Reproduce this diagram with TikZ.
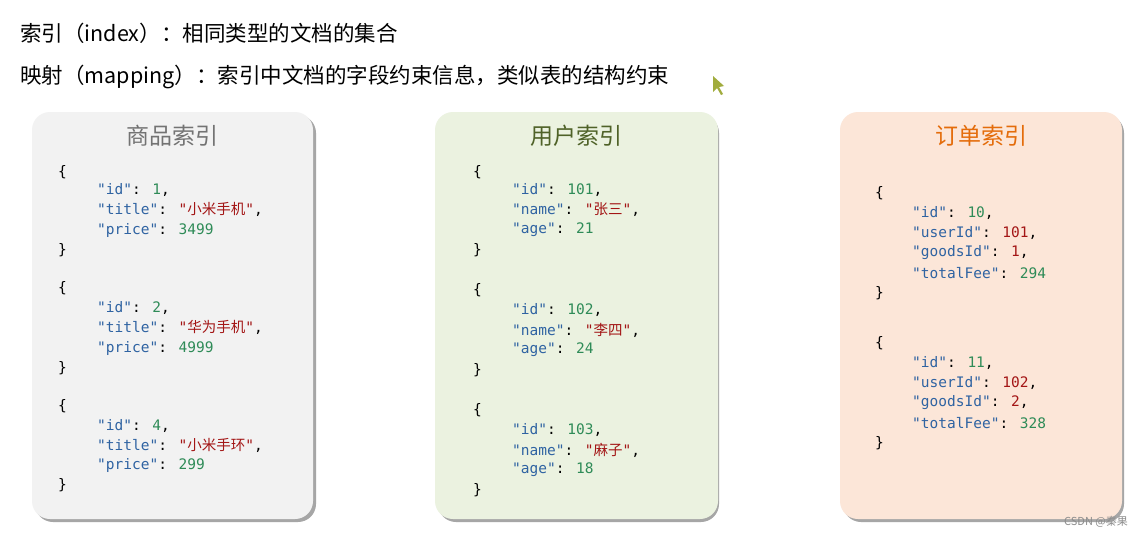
\documentclass[tikz,border=0pt]{standalone}
\usepackage{fontspec}
\setmainfont{Noto Sans CJK SC}
\newfontfamily\cjk{Noto Sans CJK SC}
\newfontfamily\codefont{DejaVu Sans Mono}
\definecolor{kc}{HTML}{2F63A2}
\definecolor{nc}{HTML}{2E8B57}
\definecolor{sc}{HTML}{A31515}
\newcommand{\K}[1]{\textcolor{kc}{"#1"}}
\newcommand{\N}[1]{\textcolor{nc}{#1}}
\newcommand{\Sx}[1]{\textcolor{sc}{"{\cjk #1}"}}
\newcommand{\R}[1]{\textcolor{sc}{#1}}
\begin{document}
\begin{tikzpicture}[x=1pt,y=-1pt,
  panel/.style={rounded corners=18pt},
  shadowp/.style={rounded corners=18pt,fill=black!35},
  ttl/.style={font=\fontsize{23}{23}\selectfont\cjk,anchor=center},
  code/.style={font=\fontsize{14.5}{14.5}\selectfont\codefont,anchor=west,inner sep=0pt},
  top/.style={font=\fontsize{21.5}{21.5}\selectfont\cjk,anchor=west,inner sep=0pt}]
\fill[white] (0,0) rectangle (1143,538);
\node[top] (t1) at (20,33) {索引（index）：相同类型的文档的集合};
\node[top] (t2) at (20,77) {映射（mapping）：索引中文档的字段约束信息，类似表的结构约束};
\fill[yellow!80!green!70!black] (713,76) -- (713,92) -- (717,88) -- (721,95) -- (723,94) -- (719,87) -- (724,86) -- cycle;
% shadows
\foreach \x in {32,435,840}{\fill[shadowp] (\x+3,115) rectangle (\x+284,522);}
\fill[panel,fill=black!5] (32,112) rectangle (313,519);
\fill[panel,fill={rgb,255:red,235;green,242;blue,224}] (435,112) rectangle (718,519);
\fill[panel,fill={rgb,255:red,252;green,230;blue,216}] (840,112) rectangle (1122,519);
\node[ttl,text=black!55] (h1) at (172,136) {商品索引};
\node[ttl,text={rgb,255:red,79;green,98;blue,40}] (h2) at (576,136) {用户索引};
\node[ttl,text={rgb,255:red,228;green,108;blue,10}] (h3) at (981,136) {订单索引};
% panel 1
\foreach \y/\t in {172/\{,250/\},288/\{,368/\},406/\{,485/\}}{\node[code] at (58,\y) {\t};}
\node[code] at (97,190) {\K{id}: \N{1},};
\node[code] at (97,209) {\K{title}: \Sx{小米手机},};
\node[code] at (97,230) {\K{price}: \N{3499}};
\node[code] at (97,308) {\K{id}: \N{2},};
\node[code] at (97,327) {\K{title}: \Sx{华为手机},};
\node[code] at (97,348) {\K{price}: \N{4999}};
\node[code] at (97,426) {\K{id}: \N{4},};
\node[code] at (97,445) {\K{title}: \Sx{小米手环},};
\node[code] at (97,465) {\K{price}: \N{299}};
% panel 2
\foreach \y/\t in {172/\{,250/\},290/\{,370/\},410/\{,490/\}}{\node[code] at (473,\y) {\t};}
\node[code] at (512,190) {\K{id}: \N{101},};
\node[code] at (512,210) {\K{name}: \Sx{张三},};
\node[code] at (512,230) {\K{age}: \N{21}};
\node[code] at (512,310) {\K{id}: \N{102},};
\node[code] at (512,330) {\K{name}: \Sx{李四},};
\node[code] at (512,350) {\K{age}: \N{24}};
\node[code] at (512,430) {\K{id}: \N{103},};
\node[code] at (512,450) {\K{name}: \Sx{麻子},};
\node[code] at (512,470) {\K{age}: \N{18}};
% panel 3
\foreach \y/\t in {193/\{,293/\},343/\{,443/\}}{\node[code] at (875,\y) {\t};}
\node[code] at (912,213) {\K{id}: \N{10},};
\node[code] at (912,233) {\K{userId}: \R{101},};
\node[code] at (912,253) {\K{goodsId}: \R{1},};
\node[code] at (912,273) {\K{totalFee}: \N{294}};
\node[code] at (912,363) {\K{id}: \N{11},};
\node[code] at (912,383) {\K{userId}: \R{102},};
\node[code] at (912,403) {\K{goodsId}: \R{2},};
\node[code] at (912,423) {\K{totalFee}: \N{328}};
\node[font=\fontsize{11}{11}\selectfont\cjk,text=black!45,anchor=east,inner sep=0pt] (wm) at (1128,522) {CSDN @秦果};
\end{tikzpicture}
\end{document}
